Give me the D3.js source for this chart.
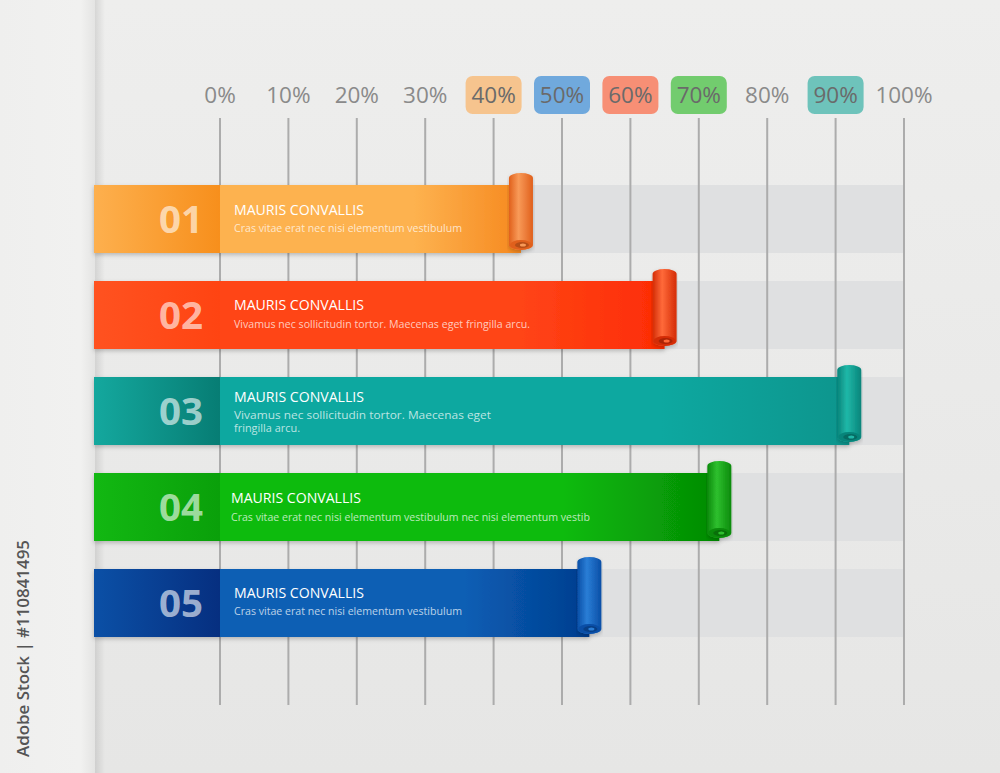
<!DOCTYPE html>
<html><head><meta charset="utf-8">
<script src="https://cdn.jsdelivr.net/npm/d3@7"></script>
<style>html,body{margin:0;padding:0;background:#ebebea;}svg{display:block;}</style>
</head><body>
<svg id="c" width="1000" height="773"></svg>
<script>
const categories = ["01","02","03","04","05"];
const values = [44, 65, 92, 73, 54];
const titles = ["MAURIS CONVALLIS","MAURIS CONVALLIS","MAURIS CONVALLIS","MAURIS CONVALLIS","MAURIS CONVALLIS"];
const descriptions = [
  ["Cras vitae erat nec nisi elementum vestibulum"],
  ["Vivamus nec sollicitudin tortor. Maecenas eget  fringilla arcu."],
  ["Vivamus nec sollicitudin tortor. Maecenas eget","fringilla arcu."],
  ["Cras vitae erat nec nisi elementum vestibulum nec nisi elementum vestib"],
  ["Cras vitae erat nec nisi elementum vestibulum"]
];
const tickValues = [0,10,20,30,40,50,60,70,80,90,100];
const tickLabels = ["0%","10%","20%","30%","40%","50%","60%","70%","80%","90%","100%"];
const highlightTicks = [40,50,60,70,90];
const highlightColors = ["#f6c48e","#70a9dd","#f78f75","#72cc6e","#6ec3bb"];
// per bar palette: [blockLight, blockDark, barStart, barEnd, rollDark, rollLight]
const palettes = [
  ["#fdb04e","#f78f1c","#fdb24f","#f6891f","#e0601c","#f89a58"],
  ["#ff5220","#ff4412","#ff4416","#fd2c04","#d42c06","#ff6a3a"],
  ["#14a89e","#077d74","#10a8a0","#0a958d","#07847a","#20b8a8"],
  ["#12b812","#0aa00a","#0cbb0c","#048a04","#0b8a0b","#2ec02e"],
  ["#0b50a6","#062f80","#0a5eb4","#023d8e","#0a4ea6","#2a7ed6"]
];
const titleDy = [30,29,25,30,29];
const descDy = [47,47,42,48,46];
const descLen = [228, 296, 257, 359, 228];

const svg = d3.select("#c");
const W = 1000, H = 773;
const x = d3.scaleLinear().domain([0,100]).range([220,904]);
const y = d3.scaleBand().domain(categories).range([185,637]).paddingInner(0.2917).paddingOuter(0);
const barLeft = 94;

const defs = svg.append("defs");
const bg = defs.append("linearGradient").attr("id","bg").attr("x1",0).attr("x2",0).attr("y1",0).attr("y2",1);
bg.append("stop").attr("offset",0).attr("stop-color","#eeeeed");
bg.append("stop").attr("offset",1).attr("stop-color","#e6e6e5");
const lp = defs.append("linearGradient").attr("id","lp").attr("x1",0).attr("x2",1);
lp.append("stop").attr("offset",0).attr("stop-color","#efefee");
lp.append("stop").attr("offset",0.85).attr("stop-color","#f1f1f0");
lp.append("stop").attr("offset",1).attr("stop-color","#e4e4e3");
const sh = defs.append("linearGradient").attr("id","sh").attr("x1",0).attr("x2",1);
sh.append("stop").attr("offset",0).attr("stop-color","#000").attr("stop-opacity",0.10);
sh.append("stop").attr("offset",1).attr("stop-color","#000").attr("stop-opacity",0);
const f = defs.append("filter").attr("id","ds").attr("x","-5%").attr("y","-20%").attr("width","110%").attr("height","150%");
f.append("feDropShadow").attr("dx",0).attr("dy",2).attr("stdDeviation",2).attr("flood-color","#000").attr("flood-opacity",0.22);

palettes.forEach((p,i)=>{
  const g1 = defs.append("linearGradient").attr("id","blk"+i).attr("x1",0).attr("x2",1);
  g1.append("stop").attr("offset",0).attr("stop-color",p[0]);
  g1.append("stop").attr("offset",1).attr("stop-color",p[1]);
  const g2 = defs.append("linearGradient").attr("id","bar"+i).attr("x1",0).attr("x2",1);
  g2.append("stop").attr("offset",0).attr("stop-color",p[2]);
  g2.append("stop").attr("offset",0.75).attr("stop-color",p[2]);
  g2.append("stop").attr("offset",1).attr("stop-color",p[3]);
  const g3 = defs.append("linearGradient").attr("id","roll"+i).attr("x1",0).attr("x2",1);
  g3.append("stop").attr("offset",0).attr("stop-color",p[4]);
  g3.append("stop").attr("offset",0.4).attr("stop-color",p[5]);
  g3.append("stop").attr("offset",1).attr("stop-color",p[4]);
});

svg.append("rect").attr("width",W).attr("height",H).attr("fill","url(#bg)");
svg.append("rect").attr("x",0).attr("y",0).attr("width",95).attr("height",H).attr("fill","url(#lp)");
svg.append("rect").attr("x",95).attr("y",0).attr("width",10).attr("height",H).attr("fill","url(#sh)");

// tracks
svg.append("g").selectAll("rect").data(categories).join("rect")
  .attr("x",barLeft).attr("y",d=>y(d)).attr("width",x(100)-barLeft).attr("height",y.bandwidth())
  .attr("fill","#dfe0e1");

// grid
svg.append("g").selectAll("line").data(tickValues).join("line")
  .attr("x1",d=>x(d)).attr("x2",d=>x(d)).attr("y1",118).attr("y2",705)
  .attr("stroke","#acacac").attr("stroke-width",2);

// tick labels
const tg = svg.append("g");
tg.selectAll("rect").data(highlightTicks).join("rect")
  .attr("x",d=>x(d)-28).attr("y",76).attr("width",56).attr("height",38).attr("rx",7)
  .attr("fill",(d,i)=>highlightColors[i]);
tg.selectAll("text").data(tickValues).join("text")
  .attr("x",d=>x(d)).attr("y",103).attr("text-anchor","middle")
  .attr("font-family","Open Sans, sans-serif").attr("font-size",22.5)
  .attr("fill",d=>highlightTicks.includes(d)?"#6a6a6a":"#8a8a8a")
  .text((d,i)=>tickLabels[i]);

// bars
const bars = svg.append("g").selectAll("g").data(categories).join("g");
bars.append("rect").attr("x",barLeft).attr("y",d=>y(d)).attr("height",y.bandwidth())
  .attr("width",(d,i)=>x(values[i])-barLeft).attr("fill",(d,i)=>`url(#bar${i})`).attr("filter","url(#ds)");
bars.append("rect").attr("x",barLeft).attr("y",d=>y(d)).attr("height",y.bandwidth())
  .attr("width",x(0)-barLeft).attr("fill",(d,i)=>`url(#blk${i})`);
bars.append("text").attr("x",181).attr("y",d=>y(d)+y.bandwidth()/2+14)
  .attr("text-anchor","middle").attr("font-family","Open Sans, sans-serif").attr("font-weight",700)
  .attr("font-size",38).attr("fill","#fff").attr("fill-opacity",0.62)
  .attr("textLength",44).attr("lengthAdjust","spacingAndGlyphs").text(d=>d);
bars.append("text").attr("x",(d,i)=>i===3?231:234).attr("y",(d,i)=>y(d)+titleDy[i])
  .attr("font-family","Open Sans, sans-serif").attr("font-size",14).attr("fill","#fff")
  .attr("textLength",130).attr("lengthAdjust","spacingAndGlyphs").text((d,i)=>titles[i]);
bars.each(function(d,i){
  const g = d3.select(this);
  descriptions[i].forEach((line,j)=>{
    g.append("text").attr("x",i===3?231:234).attr("y",y(d)+descDy[i]+j*13)
      .attr("font-family","Open Sans, sans-serif").attr("font-size",10.5).attr("fill","#fff").attr("fill-opacity",0.72)
      .attr("textLength", j===0?descLen[i]:66).attr("lengthAdjust","spacingAndGlyphs").text(line);
  });
  // roll
  const cx = x(values[i]), top = y(d)-12, bot = y(d)+y.bandwidth()-3, w = 24;
  g.append("rect").attr("x",cx-w/2).attr("y",top).attr("width",w).attr("height",bot-top).attr("rx",w/2).attr("ry",5)
    .attr("fill",`url(#roll${i})`).attr("filter","url(#ds)");
  g.append("ellipse").attr("cx",cx).attr("cy",bot-5).attr("rx",w/2-1).attr("ry",5).attr("fill",palettes[i][4]);
  g.append("ellipse").attr("cx",cx+1).attr("cy",bot-5).attr("rx",w/2-5).attr("ry",3).attr("fill",d3.color(palettes[i][4]).darker(0.6));
  g.append("ellipse").attr("cx",cx+2).attr("cy",bot-5).attr("rx",3).attr("ry",1.5).attr("fill",palettes[i][5]);
});

// vertical watermark credit
svg.append("text").attr("transform","translate(29,757) rotate(-90)")
  .attr("font-family","Open Sans, sans-serif").attr("font-size",17).attr("font-weight",600).attr("fill","#555")
  .attr("textLength",217).attr("lengthAdjust","spacingAndGlyphs")
  .text("Adobe Stock | #110841495");
</script>
</body></html>
